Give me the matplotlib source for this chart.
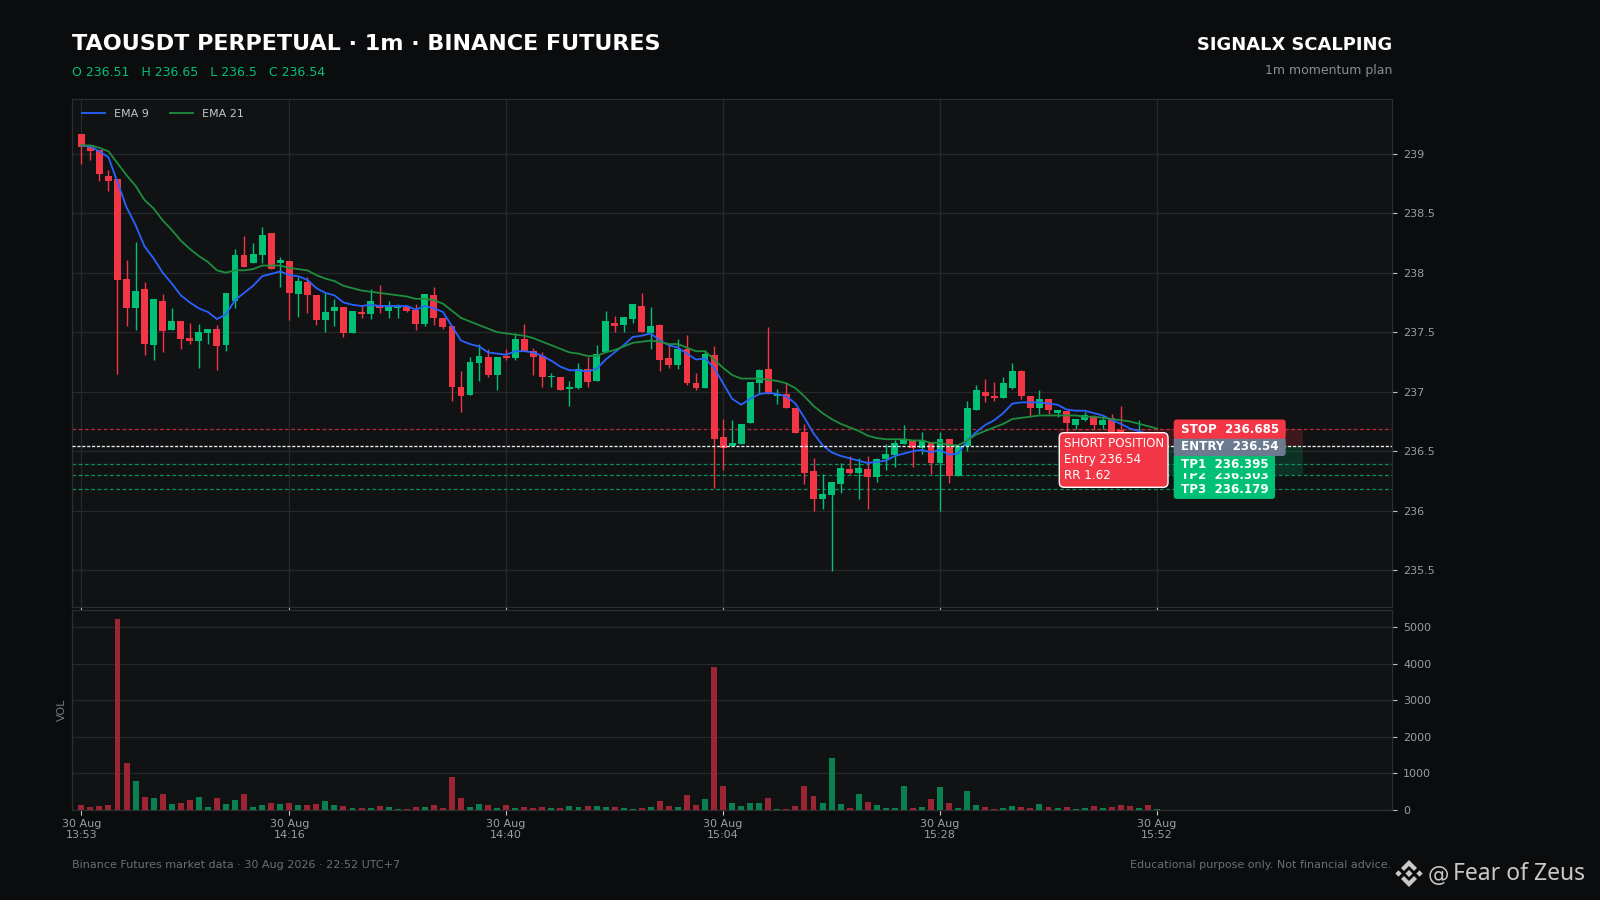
import numpy as np
import matplotlib
matplotlib.use('Agg')
import matplotlib.pyplot as plt
from matplotlib.patches import FancyBboxPatch, Polygon

# candles
opens = [239.17, 239.07, 239.03, 238.81, 238.79, 237.95, 237.70, 237.86, 237.39, 237.76,
         237.52, 237.59, 237.45, 237.43, 237.49, 237.53, 237.39, 237.76, 238.15, 238.08,
         238.15, 238.33, 238.08, 238.10, 237.82, 237.92, 237.81, 237.60, 237.68, 237.71,
         237.49, 237.67, 237.65, 237.73, 237.68, 237.70, 237.71, 237.69, 237.57, 237.81,
         237.62, 237.55, 237.04, 236.97, 237.24, 237.29, 237.14, 237.30, 237.28, 237.44,
         237.34, 237.30, 237.12, 237.12, 237.02, 237.03, 237.19, 237.09, 237.33, 237.58,
         237.56, 237.61, 237.72, 237.49, 237.56, 237.28, 237.22, 237.36, 237.07, 237.03,
         237.31, 236.62, 236.54, 236.56, 236.74, 237.07, 237.19, 236.96, 236.98, 236.86,
         236.66, 236.33, 236.10, 236.13, 236.22, 236.35, 236.32, 236.35, 236.28, 236.43,
         236.47, 236.56, 236.59, 236.53, 236.57, 236.40, 236.60, 236.29, 236.54, 236.85,
         237.00, 236.96, 236.95, 237.03, 237.17, 236.96, 236.86, 236.94, 236.82, 236.84,
         236.72, 236.76, 236.79, 236.72, 236.78, 236.68, 236.64, 236.58, 236.62, 236.51]
highs = [239.17, 239.07, 239.03, 238.86, 238.79, 238.11, 238.26, 237.92, 237.78, 237.82,
         237.70, 237.59, 237.58, 237.57, 237.53, 237.56, 237.83, 238.20, 238.31, 238.25,
         238.38, 238.33, 238.13, 238.10, 237.96, 237.96, 237.81, 237.83, 237.78, 237.71,
         237.68, 237.73, 237.86, 237.90, 237.76, 237.74, 237.72, 237.74, 237.82, 237.88,
         237.62, 237.55, 237.17, 237.29, 237.40, 237.36, 237.29, 237.36, 237.49, 237.57,
         237.37, 237.33, 237.16, 237.12, 237.09, 237.24, 237.29, 237.39, 237.68, 237.64,
         237.63, 237.74, 237.83, 237.71, 237.57, 237.40, 237.44, 237.48, 237.16, 237.35,
         237.38, 236.77, 236.76, 236.73, 237.08, 237.19, 237.54, 237.02, 237.07, 236.86,
         236.73, 236.44, 236.31, 236.24, 236.40, 236.46, 236.44, 236.46, 236.44, 236.56,
         236.59, 236.72, 236.59, 236.66, 236.57, 236.66, 236.60, 236.54, 236.92, 237.06,
         237.11, 237.08, 237.12, 237.24, 237.18, 236.96, 237.01, 236.94, 236.85, 236.84,
         236.77, 236.83, 236.80, 236.80, 236.81, 236.88, 236.66, 236.76, 236.65, 236.65]
lows = [238.91, 238.95, 238.77, 238.69, 237.15, 237.55, 237.52, 237.31, 237.27, 237.33,
        237.52, 237.36, 237.40, 237.20, 237.40, 237.18, 237.34, 237.70, 238.05, 238.08,
        238.08, 238.03, 237.88, 237.60, 237.63, 237.66, 237.56, 237.50, 237.55, 237.46,
        237.49, 237.62, 237.61, 237.66, 237.62, 237.62, 237.67, 237.52, 237.55, 237.56,
        237.53, 236.92, 236.83, 236.97, 237.09, 237.12, 237.01, 237.27, 237.27, 237.34,
        237.14, 237.04, 237.04, 237.01, 236.88, 237.02, 237.04, 237.09, 237.33, 237.50,
        237.50, 237.58, 237.50, 237.36, 237.17, 237.20, 237.19, 237.06, 237.01, 237.03,
        236.19, 236.34, 236.54, 236.56, 236.74, 236.99, 236.98, 236.90, 236.86, 236.65,
        236.22, 236.00, 236.01, 235.49, 236.15, 236.31, 236.10, 236.01, 236.24, 236.34,
        236.37, 236.56, 236.37, 236.48, 236.31, 236.00, 236.23, 236.29, 236.50, 236.85,
        236.91, 236.92, 236.95, 237.02, 236.94, 236.79, 236.81, 236.81, 236.79, 236.66,
        236.69, 236.75, 236.69, 236.69, 236.59, 236.59, 236.55, 236.56, 236.49, 236.50]
closes = [239.06, 239.02, 238.83, 238.77, 237.94, 237.70, 237.85, 237.40, 237.78, 237.51,
          237.59, 237.44, 237.43, 237.50, 237.53, 237.38, 237.83, 238.15, 238.05, 238.16,
          238.32, 238.03, 238.11, 237.83, 237.93, 237.81, 237.60, 237.67, 237.71, 237.49,
          237.68, 237.65, 237.76, 237.70, 237.72, 237.71, 237.68, 237.57, 237.82, 237.62,
          237.54, 237.04, 236.96, 237.25, 237.30, 237.14, 237.29, 237.28, 237.44, 237.34,
          237.29, 237.12, 237.12, 237.01, 237.04, 237.19, 237.08, 237.32, 237.59, 237.55,
          237.63, 237.74, 237.50, 237.55, 237.27, 237.22, 237.36, 237.07, 237.03, 237.32,
          236.60, 236.53, 236.57, 236.73, 237.08, 237.18, 236.98, 236.98, 236.86, 236.65,
          236.32, 236.10, 236.14, 236.24, 236.36, 236.32, 236.36, 236.28, 236.43, 236.48,
          236.57, 236.59, 236.53, 236.59, 236.40, 236.60, 236.29, 236.54, 236.86, 237.01,
          236.96, 236.95, 237.07, 237.17, 236.96, 236.86, 236.94, 236.85, 236.85, 236.74,
          236.77, 236.80, 236.72, 236.76, 236.64, 236.64, 236.58, 236.62, 236.51, 236.54]
volumes = [137, 82, 109, 137, 5220, 1284, 792, 355, 328, 437,
           164, 191, 273, 355, 82, 328, 164, 273, 437, 82,
           137, 191, 164, 191, 137, 137, 164, 246, 137, 109,
           55, 55, 55, 109, 82, 27, 27, 82, 82, 137,
           55, 902, 328, 82, 164, 136, 55, 136, 55, 82,
           55, 82, 55, 55, 109, 82, 109, 109, 82, 82,
           55, 27, 55, 82, 246, 109, 82, 410, 136, 300,
           3896, 655, 191, 109, 191, 191, 328, 27, 27, 109,
           655, 382, 191, 1420, 164, 55, 437, 218, 136, 55,
           55, 655, 55, 82, 300, 628, 191, 55, 519, 136,
           82, 27, 55, 109, 82, 55, 164, 82, 55, 82,
           27, 55, 109, 55, 82, 136, 109, 55, 136, 27]
ema9 = [239.07, 239.06, 239.02, 238.97, 238.76, 238.55, 238.40, 238.22, 238.12, 238.00,
        237.91, 237.81, 237.75, 237.70, 237.67, 237.61, 237.65, 237.77, 237.83, 237.89,
        237.97, 237.99, 238.01, 237.98, 237.97, 237.94, 237.87, 237.83, 237.81, 237.75,
        237.73, 237.72, 237.73, 237.72, 237.72, 237.72, 237.72, 237.69, 237.72, 237.70,
        237.67, 237.55, 237.43, 237.40, 237.38, 237.33, 237.32, 237.31, 237.34, 237.34,
        237.33, 237.30, 237.26, 237.21, 237.18, 237.18, 237.17, 237.19, 237.27, 237.33,
        237.39, 237.46, 237.47, 237.49, 237.43, 237.39, 237.37, 237.32, 237.27, 237.28,
        237.20, 237.07, 236.94, 236.89, 236.94, 236.98, 236.99, 236.98, 236.96, 236.90,
        236.78, 236.65, 236.55, 236.49, 236.46, 236.44, 236.42, 236.40, 236.41, 236.42,
        236.46, 236.48, 236.50, 236.51, 236.49, 236.51, 236.47, 236.48, 236.59, 236.66,
        236.72, 236.76, 236.82, 236.90, 236.91, 236.91, 236.91, 236.90, 236.89, 236.85,
        236.84, 236.84, 236.82, 236.80, 236.76, 236.73, 236.69, 236.67, 236.64, 236.62]
ema21 = [239.07, 239.07, 239.05, 239.02, 238.92, 238.82, 238.73, 238.61, 238.54, 238.44,
         238.36, 238.27, 238.20, 238.14, 238.09, 238.02, 238.00, 238.02, 238.02, 238.03,
         238.06, 238.06, 238.06, 238.04, 238.03, 238.02, 237.98, 237.95, 237.93, 237.89,
         237.87, 237.85, 237.84, 237.83, 237.82, 237.81, 237.80, 237.78, 237.78, 237.77,
         237.74, 237.68, 237.62, 237.59, 237.56, 237.53, 237.50, 237.49, 237.48, 237.47,
         237.45, 237.42, 237.39, 237.36, 237.33, 237.32, 237.30, 237.30, 237.33, 237.35,
         237.38, 237.41, 237.42, 237.43, 237.42, 237.40, 237.40, 237.37, 237.34, 237.34,
         237.27, 237.20, 237.14, 237.11, 237.11, 237.11, 237.10, 237.09, 237.07, 237.03,
         236.96, 236.88, 236.82, 236.77, 236.73, 236.70, 236.67, 236.63, 236.61, 236.60,
         236.60, 236.60, 236.59, 236.59, 236.57, 236.57, 236.55, 236.55, 236.59, 236.64,
         236.67, 236.70, 236.73, 236.77, 236.78, 236.79, 236.80, 236.80, 236.80, 236.80,
         236.80, 236.79, 236.79, 236.78, 236.77, 236.76, 236.75, 236.73, 236.71, 236.69]

price_ticks = [235.5, 236, 236.5, 237, 237.5, 238, 238.5, 239]
price_labels = ['235.5', '236', '236.5', '237', '237.5', '238', '238.5', '239']
vol_ticks = [0, 1000, 2000, 3000, 4000, 5000]
time_ticks = [0, 23, 47, 71, 95, 119]
time_labels = ['30 Aug\n13:53', '30 Aug\n14:16', '30 Aug\n14:40', '30 Aug\n15:04', '30 Aug\n15:28', '30 Aug\n15:52']

stop = 236.685
entry = 236.54
tp1 = 236.395
tp2 = 236.303
tp3 = 236.179

BG = '#0b0c0e'
PANEL = '#111214'
GRID = '#26282b'
RED = '#f23645'
GREEN = '#00c076'
W, H = 1600, 900


def box(x0, y0, x1, y1):
    return [x0 / W, 1 - y1 / H, (x1 - x0) / W, (y1 - y0) / H]


fig = plt.figure(figsize=(16, 9), dpi=100, facecolor=BG)
ax = fig.add_axes(box(72.3, 99, 1392, 607), facecolor=PANEL)
vx = fig.add_axes(box(72.3, 610, 1392, 810), facecolor=PANEL, sharex=ax)

x = np.arange(len(closes))
o = np.array(opens)
c = np.array(closes)
cols = [RED if c[i] < o[i] else GREEN for i in x]

ax.vlines(x, lows, highs, colors=cols, linewidth=1.0, zorder=3)
ax.bar(x, np.maximum(np.abs(c - o), 0.012), bottom=np.minimum(o, c), width=0.76, color=cols, zorder=4)
ax.plot(x, ema9, color='#2962ff', lw=1.3, label='EMA 9', zorder=5)
ax.plot(x, ema21, color='#1e8e3e', lw=1.3, label='EMA 21', zorder=5)

# levels
ax.axhline(stop, color=RED, lw=0.9, ls=(0, (3, 2)), alpha=0.75, zorder=2)
ax.axhline(entry, color='white', lw=0.95, ls=(0, (2.4, 1.3)), alpha=0.92, zorder=6)
for lv in [tp1, tp2, tp3]:
    ax.axhline(lv, color=GREEN, lw=0.9, ls=(0, (3, 2)), alpha=0.75, zorder=2)

# risk / reward zones
ax.fill_between([108, 135.2], entry, stop, color=RED, alpha=0.2, lw=0, zorder=1)
ax.fill_between([108, 135.2], tp2, entry, color=GREEN, alpha=0.18, lw=0, zorder=1)

ax.set_xlim(-1, 145)
ax.set_ylim(235.19, 239.46)
ax.set_yticks(price_ticks)
ax.set_yticklabels(price_labels)
ax.yaxis.tick_right()
ax.tick_params(axis='y', colors='#9a9da3', labelsize=8, length=3.4, width=0.8, color='#c0c0c0', pad=4.5)
ax.tick_params(axis='x', length=3, width=0.8, color='#c8c8c8', labelbottom=False)
ax.set_xticks(time_ticks)
ax.grid(True, color=GRID, lw=0.9)
ax.set_axisbelow(True)

leg = ax.legend(loc='upper left', ncol=2, frameon=False, fontsize=8, labelcolor='#c4c6ca',
                handlelength=2.1, columnspacing=1.85, borderaxespad=0.3, bbox_to_anchor=(0.0015, 0.996))

vol_cols = ['#9b2532' if col == RED else '#0a7f50' for col in cols]
vx.bar(x, volumes, width=0.66, color=vol_cols, zorder=3)
vx.set_ylim(0, 5464)
vx.set_yticks(vol_ticks)
vx.yaxis.tick_right()
vx.tick_params(axis='y', colors='#9a9da3', labelsize=8, length=3.4, width=0.8, color='#c0c0c0', pad=4.5)
vx.set_xticks(time_ticks)
vx.set_xticklabels(time_labels)
vx.tick_params(axis='x', colors='#9a9da3', labelsize=8, length=3.4, width=0.8, color='#c8c8c8', pad=3)
vx.grid(True, axis='y', color=GRID, lw=0.9)
vx.set_axisbelow(True)
vx.set_ylabel('VOL', color='#75787e', fontsize=8, labelpad=4)

for a in [ax, vx]:
    for s in a.spines.values():
        s.set_color('#2c2e32')
        s.set_linewidth(0.9)


def px_x(px):
    return px / W


def px_y(py):
    return 1 - py / H


def level_tag(text, price, right, bg, z):
    # tag centred on the price, left edge fixed in pixels
    ypx = ax.transData.transform((0, price))[1]
    y0 = ypx / H
    hh = 9.6 / H
    fig.add_artist(FancyBboxPatch((px_x(1173.7), y0 - hh), (right - 1173.7) / W, 2 * hh,
                                  boxstyle='round,pad=0,rounding_size=0.002', mutation_aspect=16 / 9,
                                  fc=bg, ec='none', transform=fig.transFigure, zorder=z))
    fig.text(px_x(1181), y0 - 0.0005, text, color='white', fontsize=8.6, fontweight='bold', va='center', ha='left',
             zorder=z + 0.1)


level_tag('TP2  236.303', tp2, 1275, GREEN, 20)
level_tag('TP1  236.395', tp1, 1275, GREEN, 21)
level_tag('TP3  236.179', tp3, 1275, GREEN, 21)
level_tag('ENTRY  236.54', entry, 1285.7, '#6b7a8f', 22)
level_tag('STOP  236.685', stop, 1285.7, RED, 23)

fig.add_artist(FancyBboxPatch((px_x(1059.3), px_y(487.3)), 108.7 / W, 54.6 / H,
                              boxstyle='round,pad=0,rounding_size=0.003', mutation_aspect=16 / 9,
                              fc=RED, ec='white', lw=1.0, transform=fig.transFigure, zorder=24))
for ypx, t in [(443.5, 'SHORT POSITION'), (460, 'Entry 236.54'), (476, 'RR 1.62')]:
    fig.text(px_x(1064.3), px_y(ypx), t, color='white', fontsize=8.6, va='center', ha='left', zorder=25)

# header
fig.text(px_x(72), px_y(44), 'TAOUSDT PERPETUAL · 1m · BINANCE FUTURES', color='white', fontsize=16,
         fontweight='bold', va='center', ha='left')
fig.text(px_x(72), px_y(72), 'O 236.51   H 236.65   L 236.5   C 236.54', color=GREEN, fontsize=9, va='center', ha='left')
fig.text(px_x(1392), px_y(44.5), 'SIGNALX SCALPING', color='white', fontsize=12.9, fontweight='bold', va='center', ha='right')
fig.text(px_x(1392), px_y(70.5), '1m momentum plan', color='#8a8d92', fontsize=9, va='center', ha='right')

# footer
fig.text(px_x(72), px_y(864.5), 'Binance Futures market data · 30 Aug 2026 · 22:52 UTC+7', color='#6b6e74', fontsize=8,
         va='center', ha='left')
fig.text(px_x(1391), px_y(864.5), 'Educational purpose only. Not financial advice.', color='#6b6e74', fontsize=8,
         va='center', ha='right')

# watermark
fig.text(px_x(1428), px_y(875), '@', color='#c9c9c9', fontsize=15.5, va='center', ha='left')
fig.text(px_x(1453), px_y(874), 'Fear of Zeus', color='#c9c9c9', fontsize=16.5, family='Noto Sans', va='center', ha='left')
lx, ly = 1409, 873.5


def diamond(cx, cy, r):
    return [(px_x(cx - r), px_y(cy)), (px_x(cx), px_y(cy - r)), (px_x(cx + r), px_y(cy)), (px_x(cx), px_y(cy + r))]


for cx, cy, r in [(lx - 10.5, ly, 3.2), (lx + 10.5, ly, 3.2), (lx, ly, 3.6)]:
    fig.add_artist(Polygon(diamond(cx, cy, r), closed=True, fc='#c9c9c9', ec='none', transform=fig.transFigure))
chev = [[(-8, -5.5), (0, -13.5), (8, -5.5), (5, -2.5), (0, -7.5), (-5, -2.5)],
        [(-8, 5.5), (0, 13.5), (8, 5.5), (5, 2.5), (0, 7.5), (-5, 2.5)]]
for pts in chev:
    fig.add_artist(Polygon([(px_x(lx + a), px_y(ly + b)) for a, b in pts], closed=True, fc='#c9c9c9', ec='none',
                           transform=fig.transFigure))

fig.savefig('out.png', dpi=100, facecolor=BG)
